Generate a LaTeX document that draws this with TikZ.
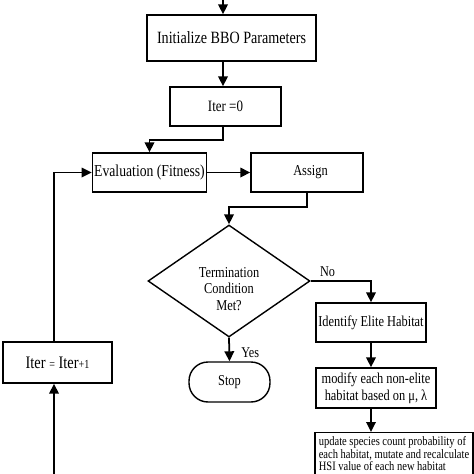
\documentclass[tikz,border=0pt]{standalone}
\usepackage{fontspec}
\setmainfont{Liberation Serif}[FakeStretch=0.82]
\usetikzlibrary{shapes.geometric,arrows.meta}

\begin{document}
\begin{tikzpicture}[x=0.02cm,y=-0.02cm,line width=0.8pt,
  box/.style={draw,minimum width=#1*0.02cm,minimum height=0.78cm,inner sep=1pt,font=\fontsize{8.6}{9.6}\selectfont},
  box/.default=111,
  arr/.style={-{Triangle[length=2mm,width=1.9mm]},line width=1pt}]
\clip (0,0) rectangle (474,474);
\node[box=169,minimum height=0.92cm,font=\fontsize{9.8}{11}\selectfont] (init) at (231.5,38) {Initialize BBO Parameters};
\node[box=111,font=\fontsize{9}{10}\selectfont] (iter0) at (225.5,106.5) {Iter =0};
\node[box=111,font=\fontsize{9.5}{10}\selectfont] (eval) at (149.5,172.5) {Evaluation (Fitness)};
\node[box=112] (assign) at (307,172.5) {\hspace{4pt}Assign};
\node[draw,diamond,minimum width=3.24cm,minimum height=2.24cm,inner sep=0] (cond) at (229,281) {};
\node[align=center,font=\fontsize{8.6}{9.4}\selectfont] (condtext) at (229,289) {Termination\\Condition\\Met?};
\node[draw,rounded corners=0.38cm,minimum width=1.62cm,minimum height=0.8cm,font=\fontsize{8.6}{9.6}\selectfont] (stop) at (229.5,382) {Stop};
\node[box=110] (ident) at (371,322.5) {Identify Elite Habitat};
\node[box=120,minimum height=0.8cm,align=center] (modify) at (376,388) {modify each non-elite\\habitat based on μ, λ};
\node[box=158,anchor=north,align=left,inner xsep=0.04cm,inner ysep=0.08cm,font=\fontsize{7.3}{7}\selectfont] (update) at (394,432) {update species count probability of\\each habitat, mutate and recalculate\\HSI value of each new habitat};
\node[box=109,minimum height=0.82cm,font=\fontsize{10}{11}\selectfont] (inc) at (57.5,362.5) {Iter {\scriptsize =} Iter{\scriptsize +1}};
\coordinate (top) at (223,-5);
\coordinate (bot) at (54,480);
\draw[arr] (top) -- (top |- init.north);
\draw[arr] (top |- init.south) -- (top |- iter0.north);
\draw[arr] (top |- iter0.south) -- ++(0,13) -| (eval.north);
\draw[arr] (eval) -- (assign);
\draw[arr] (assign.south) -- ++(0,14) -| (cond.north);
\draw[arr] (cond.east) -| (ident.north) node[pos=0.14,above,inner sep=2pt,font=\fontsize{8.5}{9}\selectfont] {No};
\draw[arr] (cond.south) -- (stop.north) node[midway,right,xshift=3pt,yshift=-2pt,font=\fontsize{8.5}{9}\selectfont] {Yes};
\draw[arr] (ident.south) -- (ident.south |- modify.north);
\draw[arr] (ident.south |- modify.south) -- (ident.south |- update.north);
\draw[arr] (bot) -- (bot |- inc.south);
\draw[arr] (bot |- inc.north) |- (eval.west);
\end{tikzpicture}
\end{document}
